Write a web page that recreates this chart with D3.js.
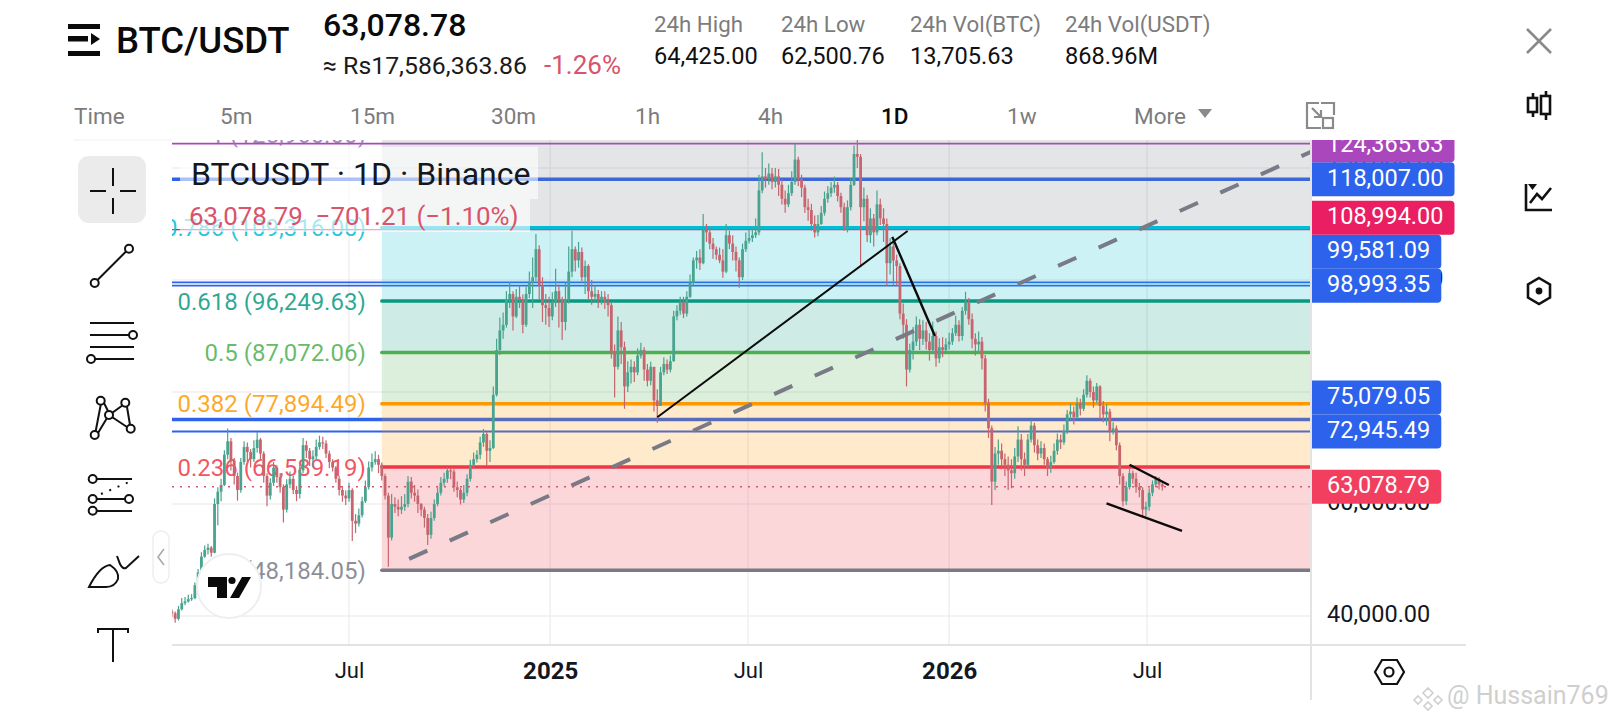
<!DOCTYPE html>
<html>
<head>
<meta charset="utf-8">
<script src="https://cdn.jsdelivr.net/npm/d3@7"></script>
<style>
html,body{margin:0;padding:0;background:#fff;overflow:hidden;}
svg{display:block;font-family:Roboto,sans-serif;}
</style>
</head>
<body>
<svg id="chart" width="1612" height="720"></svg>
<script>
// header + tabs
var statTitles = ["24h High", "24h Low", "24h Vol(BTC)", "24h Vol(USDT)"];
var statValues = ["64,425.00", "62,500.76", "13,705.63", "868.96M"];
var tabNames = ["Time", "5m", "15m", "30m", "1h", "4h", "1D", "1w", "More"];

// axis ticks
var timeTicks = ["2024-07-01", "2025-01-01", "2025-07-01", "2026-01-01", "2026-07-01"];
var timeTickLabels = ["Jul", "2025", "Jul", "2026", "Jul"];
var priceTicks = [40000, 60000, 80000, 100000, 120000];

// fib retracement
var fibRatios = ["0", "0.236", "0.382", "0.5", "0.618", "0.786", "1"];
var fibPrices = [48184.05, 66589.19, 77894.49, 87072.06, 96249.63, 109316.00, 125960.00];
var fibColors = ["#787b86", "#f23645", "#ff9800", "#4caf50", "#089981", "#00bcd4", "#9c6fb0"];
var fibStart = "2024-07-31";
var fibEnd = "2026-12-31";

// horizontal lines and their price tags
var levelPrices = [124365.63, 118007.00, 108994.00, 99581.09, 98993.35, 75079.05, 72945.49, 63078.79];
var levelColors = ["#ab47bc", "#2c62ec", "#e91e63", "#2c62ec", "#2c62ec", "#2c62ec", "#2c62ec", "#f23f5f"];
var levelWidths = [1.8, 3.5, 1.2, 1.8, 1.8, 3.5, 2, 0];

// hand drawn lines [date, price]
var trendA = [["2025-04-09", 75500], ["2025-11-24", 108750]];
var trendB = [["2025-11-10", 107700], ["2025-12-19", 90000]];
var channelTop = [["2026-06-15", 67000], ["2026-07-21", 63400]];
var channelBottom = [["2026-05-25", 60100], ["2026-08-02", 55200]];
var dashedTrend = [["2024-08-25", 50200], ["2026-11-28", 122900]];

// candles, one every 3 days from 2024-01-21, in thousand USDT
var candleStart = "2024-01-21";
var candleStepDays = 3;
var firstOpen = 40.8;
var closes = [
 40.5,39.5,41.2,42.3,42.6,43.0,43.2,45.5,47.8,50.6,
 51.8,52.2,51.3,60.0,62.2,63.4,68.8,71.2,67.8,65.0,
 62.5,67.5,70.2,69.3,68.0,70.0,71.5,69.0,65.0,61.5,
 63.8,66.5,64.8,63.0,59.0,63.5,64.5,62.5,61.8,66.0,
 70.5,69.5,68.0,68.5,70.2,71.0,70.8,69.0,67.5,66.5,
 64.5,62.5,61.5,61.0,62.5,57.0,56.5,58.0,60.5,63.0,
 66.5,67.5,68.0,67.0,65.0,61.5,54.0,60.0,59.5,59.0,
 59.5,60.0,64.0,62.0,61.5,60.0,59.0,57.5,54.5,57.5,
 60.0,62.0,63.8,64.5,66.0,65.8,63.0,62.5,60.8,62.0,
 64.5,67.0,68.0,68.8,71.0,72.5,69.5,70.0,79.5,87.5,
 91.0,92.0,96.5,97.5,93.5,97.0,96.5,92.0,97.5,99.5,
 100.5,105.5,99.0,95.5,95.0,93.5,96.0,98.0,96.5,92.5,
 96.5,101.5,105.5,103.5,105.0,100.5,102.5,98.0,97.0,97.5,
 96.5,97.0,96.0,95.5,87.0,84.5,91.0,88.0,81.0,83.5,
 84.5,83.5,86.5,87.5,84.0,82.0,84.5,78.5,77.5,83.5,
 85.0,84.0,85.5,93.5,94.5,96.0,94.0,97.0,99.5,103.5,
 104.0,103.0,109.0,108.5,106.5,105.5,104.5,103.5,101.5,108.0,
 106.5,105.0,103.5,100.5,105.5,107.0,107.5,108.0,108.5,116.0,
 118.5,118.0,119.0,117.5,118.5,117.0,114.5,113.5,115.5,117.5,
 121.5,118.0,116.5,113.0,112.5,110.0,108.5,110.0,112.0,114.5,
 115.5,116.5,117.0,115.0,113.0,109.5,113.0,117.0,122.5,122.0,
 113.0,114.5,108.0,111.0,108.5,113.5,111.0,110.0,103.0,106.0,
 103.5,102.5,94.0,92.0,84.0,87.5,89.0,92.0,89.5,91.0,
 89.0,87.5,90.0,86.0,88.0,87.5,88.5,89.0,90.5,92.0,
 90.0,94.5,96.0,93.0,89.5,88.5,89.0,86.0,78.0,73.5,
 64.0,69.0,69.5,68.0,67.0,66.0,65.5,68.5,71.5,68.0,
 67.0,71.5,74.0,70.5,69.0,70.0,68.0,66.5,67.5,69.5,
 71.5,71.0,73.0,76.0,76.5,75.5,78.0,77.0,79.5,82.0,
 80.0,78.5,81.0,77.5,76.0,76.5,73.0,73.5,70.5,65.0,
 60.5,63.0,65.5,64.5,63.0,62.5,59.0,59.5,62.0,63.5,
 64.5,63.5,63.1
];
var highs = [
 41.2,40.8,41.8,43.2,43.4,43.8,43.9,46.0,48.4,51.4,
 52.6,52.9,52.5,61.0,63.0,64.5,69.6,73.5,71.8,68.2,
 65.6,68.2,71.2,71.0,69.8,71.4,72.9,71.8,69.4,65.5,
 64.6,67.5,66.9,65.5,63.5,64.4,65.8,65.0,63.2,67.0,
 71.8,71.3,70.0,69.6,71.5,72.2,72.0,71.4,69.5,68.0,
 66.8,65.0,63.2,62.4,63.8,62.8,58.2,59.2,61.3,64.2,
 67.6,69.0,69.4,68.8,67.4,65.4,62.0,61.8,61.2,60.8,
 61.4,61.8,65.0,64.8,63.4,62.6,60.2,59.5,58.2,58.6,
 60.8,63.0,64.8,65.6,66.6,66.5,66.2,64.0,62.9,63.4,
 65.3,67.9,69.2,69.6,72.0,73.4,72.8,71.4,81.0,89.5,
 93.3,94.2,98.0,99.6,98.0,98.4,99.0,97.4,98.8,101.5,
 104.0,108.2,106.2,100.5,97.5,97.0,97.8,102.0,99.2,97.0,
 99.5,106.0,108.8,106.0,106.8,105.8,103.5,102.8,100.0,99.0,
 98.2,98.0,98.0,97.5,96.0,88.5,93.5,92.5,89.0,85.5,
 85.8,85.5,87.8,88.8,88.0,85.0,85.4,84.0,80.5,84.5,
 86.2,85.8,86.5,94.5,95.5,97.0,97.0,98.0,101.0,104.0,
 105.2,105.5,111.8,110.0,109.5,107.5,106.0,105.8,105.5,110.0,
 108.8,108.0,106.0,104.0,106.5,108.5,109.6,109.5,111.0,118.8,
 122.8,120.0,120.8,120.0,120.0,119.8,118.0,116.0,117.0,119.4,
 124.4,122.0,118.8,117.0,114.5,113.6,111.5,111.6,113.2,115.8,
 116.8,117.5,118.5,117.5,115.6,113.8,114.2,118.2,124.0,125.8,
 122.5,116.5,115.2,112.8,111.8,116.0,114.5,112.8,111.0,107.5,
 107.0,104.5,103.0,95.8,93.0,88.6,91.6,93.5,93.0,92.8,
 92.5,90.5,92.6,90.8,89.6,89.8,89.6,90.6,91.4,93.6,
 92.8,95.2,97.9,96.8,94.0,90.5,90.8,89.8,86.6,78.8,
 74.0,70.2,71.5,70.8,69.0,68.5,68.0,70.0,73.9,72.5,
 69.2,72.5,75.0,74.5,71.5,71.2,70.8,68.4,68.6,70.8,
 72.6,72.4,74.2,76.8,78.0,77.4,79.0,78.8,80.5,83.0,
 82.4,81.0,81.6,81.2,78.4,77.8,77.0,74.6,74.0,71.0,
 65.5,64.0,66.4,66.0,65.6,63.8,63.0,60.4,62.8,64.2,
 65.0,64.8,64.0
];
var lows = [
 39.8,38.8,39.2,41.0,41.9,42.4,42.7,43.0,45.2,47.6,
 50.4,51.0,50.6,51.2,56.2,60.5,63.2,68.0,66.0,63.5,
 60.6,62.0,67.0,67.6,66.5,67.5,69.2,68.0,63.8,59.6,
 60.8,63.2,63.8,62.0,56.7,58.5,62.8,61.8,60.5,61.0,
 65.5,68.2,66.8,66.6,68.0,69.7,69.8,68.2,66.4,65.8,
 63.8,61.5,60.4,59.8,60.4,53.4,54.8,56.0,57.6,60.2,
 62.6,65.8,67.0,65.5,64.2,60.8,48.8,53.5,58.4,57.8,
 58.2,58.8,59.4,61.0,60.4,58.4,57.8,55.8,52.7,53.8,
 57.0,59.6,61.5,63.2,63.8,64.4,62.2,61.2,59.9,60.2,
 61.4,64.0,66.4,67.4,68.0,70.2,66.8,67.5,69.8,79.2,
 86.6,89.5,91.5,95.0,91.0,93.2,95.0,90.5,91.6,96.8,
 95.0,99.8,96.5,92.5,92.0,91.6,92.8,95.2,91.5,89.3,
 91.0,95.8,100.5,101.5,102.2,99.8,97.5,96.5,95.6,96.0,
 95.0,95.6,94.8,93.5,86.0,79.0,84.0,85.0,77.0,80.0,
 81.5,81.8,83.0,86.0,82.0,81.0,81.2,76.5,74.5,77.5,
 83.0,83.2,83.5,85.4,92.8,93.8,93.2,93.5,96.8,99.0,
 102.0,101.8,102.8,106.8,105.5,103.8,103.6,103.0,100.4,101.2,
 105.5,103.5,101.5,98.6,100.0,105.0,106.5,106.8,107.5,108.0,
 115.5,116.5,117.0,116.2,116.5,115.0,113.5,112.0,113.0,115.0,
 117.0,116.8,114.8,112.0,110.6,108.8,107.6,107.8,109.8,111.5,
 113.8,114.8,115.6,114.0,112.0,108.8,108.5,112.4,116.8,120.0,
 102.3,110.5,106.8,106.6,106.0,108.0,109.8,106.8,99.0,101.0,
 99.2,99.0,93.0,89.5,81.0,83.5,85.8,88.2,87.5,88.4,
 87.6,85.6,86.8,84.5,85.2,86.2,86.8,87.6,88.4,90.0,
 89.0,89.2,93.8,92.0,87.8,86.5,87.2,84.0,76.5,71.8,
 59.8,62.5,67.0,66.2,65.0,62.5,62.8,64.5,67.5,66.0,
 65.0,66.6,71.0,69.2,67.8,68.2,67.0,65.0,65.6,67.2,
 68.8,69.8,70.6,72.5,75.0,74.2,75.2,75.8,76.6,79.0,
 79.0,77.2,78.0,75.2,74.6,74.0,71.2,72.4,69.6,63.5,
 59.6,59.8,62.6,63.6,62.0,61.2,57.6,57.8,58.8,61.4,
 63.0,62.6,62.4
];

var parseDate = d3.utcParse("%Y-%m-%d");
var svg = d3.select("#chart");

// pane box
var pane = {left: 172, right: 1311, top: 140, bottom: 645};
var priceLeft = 1312, priceText = 1327;

var xScale = d3.scaleUtc()
	.domain([parseDate("2024-07-01"), parseDate("2026-07-01")])
	.range([349, 1147]);
var yScale = d3.scaleLinear()
	.domain([40000, 60000])
	.range([616, 504]);

var defs = svg.append("defs");
defs.append("clipPath").attr("id", "paneClip").append("rect")
	.attr("x", pane.left).attr("y", pane.top)
	.attr("width", pane.right-pane.left).attr("height", pane.bottom-pane.top);
defs.append("clipPath").attr("id", "tagClip").append("rect")
	.attr("x", priceLeft).attr("y", pane.top)
	.attr("width", 200).attr("height", 500);

var plot = svg.append("g").attr("clip-path", "url(#paneClip)");

// grid
plot.selectAll("line.gridX").data(timeTicks).enter().append("line")
	.attr("x1", function(d){ return xScale(parseDate(d)); })
	.attr("x2", function(d){ return xScale(parseDate(d)); })
	.attr("y1", pane.top).attr("y2", pane.bottom)
	.attr("stroke", "#efeff1").attr("stroke-width", 1.5);
plot.selectAll("line.gridY").data(priceTicks).enter().append("line")
	.attr("x1", pane.left).attr("x2", pane.right)
	.attr("y1", function(d){ return yScale(d); })
	.attr("y2", function(d){ return yScale(d); })
	.attr("stroke", "#efeff1").attr("stroke-width", 1.5);

// horizontal lines
levelPrices.forEach(function(p, i){
	if(levelWidths[i] == 0) return;
	plot.append("line")
		.attr("x1", pane.left).attr("x2", pane.right)
		.attr("y1", yScale(p)).attr("y2", yScale(p))
		.attr("stroke", levelColors[i])
		.attr("stroke-width", levelWidths[i]);
});

// fib bands
var fibX0 = xScale(parseDate(fibStart));
var fibX1 = xScale(parseDate(fibEnd));
var bandColors = ["#f23645", "#ff9800", "#4caf50", "#089981", "#00bcd4", "#787b86"];
for(var i=0; i<fibPrices.length-1; i++){
	plot.append("rect")
		.attr("x", fibX0)
		.attr("width", fibX1-fibX0)
		.attr("y", yScale(fibPrices[i+1]))
		.attr("height", yScale(fibPrices[i])-yScale(fibPrices[i+1]))
		.attr("fill", bandColors[i])
		.attr("fill-opacity", 0.2);
}
// fib lines + labels
fibPrices.forEach(function(p, i){
	plot.append("line")
		.attr("x1", fibX0).attr("x2", fibX1)
		.attr("y1", yScale(p)).attr("y2", yScale(p))
		.attr("stroke", fibColors[i])
		.attr("stroke-width", 3.5)
		.attr("stroke-linecap", "round");
	plot.append("text")
		.text(fibRatios[i]+" ("+d3.format(",.2f")(p)+")")
		.attr("x", fibX0-16)
		.attr("y", yScale(p)+8.5)
		.attr("text-anchor", "end")
		.attr("fill", fibColors[i])
		.attr("fill-opacity", 0.85)
		.style("font-size", "24px");
});

// candles
var candles = closes.map(function(c, i){
	return {
		date: d3.utcDay.offset(parseDate(candleStart), i*candleStepDays),
		open: (i==0 ? firstOpen : closes[i-1])*1000,
		close: c*1000,
		high: highs[i]*1000,
		low: lows[i]*1000
	};
});
var upColor = "#4aa38e", downColor = "#c7656f";
var candleG = plot.append("g").selectAll("g").data(candles).enter().append("g");
candleG.append("line")
	.attr("x1", function(d){ return xScale(d.date); })
	.attr("x2", function(d){ return xScale(d.date); })
	.attr("y1", function(d){ return yScale(d.high); })
	.attr("y2", function(d){ return yScale(d.low); })
	.attr("stroke", function(d){ return d.close>=d.open ? upColor : downColor; })
	.attr("stroke-width", 1.2);
candleG.append("rect")
	.attr("x", function(d){ return xScale(d.date)-1.4; })
	.attr("width", 2.8)
	.attr("y", function(d){ return yScale(Math.max(d.open, d.close)); })
	.attr("height", function(d){ return Math.max(1, Math.abs(yScale(d.open)-yScale(d.close))); })
	.attr("fill", function(d){ return d.close>=d.open ? upColor : downColor; });

// drawings
var drawLine = d3.line()
	.x(function(d){ return xScale(parseDate(d[0])); })
	.y(function(d){ return yScale(d[1]); });
plot.append("path").attr("d", drawLine(dashedTrend))
	.attr("fill", "none").attr("stroke", "#787b86").attr("stroke-width", 4)
	.attr("stroke-dasharray", "20 24.5");
[trendA, trendB, channelTop, channelBottom].forEach(function(t, i){
	plot.append("path").attr("d", drawLine(t))
		.attr("fill", "none").attr("stroke", "#0c0c0c")
		.attr("stroke-width", i==0 ? 2 : 2.4);
});

// last price dotted line
plot.append("line")
	.attr("x1", pane.left).attr("x2", pane.right)
	.attr("y1", yScale(levelPrices[7])).attr("y2", yScale(levelPrices[7]))
	.attr("stroke", "#d9536b").attr("stroke-width", 1.6)
	.attr("stroke-dasharray", "2 6");

// legend
var legend = svg.append("g");
legend.append("rect").attr("x", 180).attr("y", 147).attr("width", 358).attr("height", 52)
	.attr("fill", "#fff").attr("fill-opacity", 0.6);
legend.append("rect").attr("x", 180).attr("y", 199).attr("width", 350).attr("height", 33)
	.attr("fill", "#fff").attr("fill-opacity", 0.6);
legend.append("text").text("BTCUSDT · 1D · Binance")
	.attr("x", 191).attr("y", 185).attr("fill", "#131722")
	.style("font-size", "32px");
legend.append("text").text("63,078.79  −701.21 (−1.10%)")
	.attr("x", 189).attr("y", 225).attr("fill", "#d9536b")
	.attr("xml:space", "preserve")
	.style("font-size", "25.9px");

// tradingview logo
var logo = svg.append("g");
logo.append("circle").attr("cx", 229).attr("cy", 586).attr("r", 32)
	.attr("fill", "#fff").attr("stroke", "#eeeeee").attr("stroke-width", 2);
logo.append("path").attr("d", "M208 577h19v21h-10v-11h-9z M242 577h9l-12 21h-9z").attr("fill", "#0a0a0a");
logo.append("circle").attr("cx", 232).attr("cy", 580.5).attr("r", 3.6).attr("fill", "#0a0a0a");

// price axis
var yAxis = d3.axisRight(yScale)
	.tickValues(priceTicks)
	.tickFormat(d3.format(",.2f"))
	.tickSize(0)
	.tickPadding(0);
var yAxisG = svg.append("g").attr("transform", "translate("+priceText+",0)").call(yAxis);
yAxisG.select(".domain").remove();
yAxisG.selectAll("text")
	.attr("fill", "#131722")
	.attr("dy", "0.22em")
	.style("font-family", "Roboto,sans-serif")
	.style("font-size", "23.5px");

// price tags, pushed up so that they do not overlap
var tagH = 34;
var tags = svg.append("g").attr("clip-path", "url(#tagClip)");
var prevY = null;
for(var i=levelPrices.length-1; i>=0; i--){
	var cy = yScale(levelPrices[i]);
	if(prevY !== null && cy > prevY-tagH-3) cy = prevY-tagH;
	prevY = cy;
	var tg = tags.append("g");
	var tagRect = tg.append("rect")
		.attr("x", priceLeft-8).attr("y", cy-tagH/2)
		.attr("height", tagH).attr("rx", 4)
		.attr("fill", levelColors[i]);
	var tagText = tg.append("text")
		.text(d3.format(",.2f")(levelPrices[i]))
		.attr("x", priceText).attr("y", cy+6.5)
		.attr("fill", "#fff")
		.style("font-size", "23.5px");
	tagRect.attr("width", tagText.node().getComputedTextLength()+priceText-priceLeft+19);
}

// time axis
var xAxis = d3.axisBottom(xScale)
	.tickValues(timeTicks.map(parseDate))
	.tickFormat(function(d, i){ return timeTickLabels[i]; })
	.tickSize(0)
	.tickPadding(17);
var xAxisG = svg.append("g").attr("transform", "translate(0,"+pane.bottom+")").call(xAxis);
xAxisG.select(".domain").remove();
xAxisG.selectAll("text")
	.attr("fill", "#131722")
	.style("font-family", "Roboto,sans-serif")
	.style("font-size", function(d, i){ return timeTickLabels[i]=="Jul" ? "22px" : "24px"; })
	.style("font-weight", function(d, i){ return timeTickLabels[i]=="Jul" ? 400 : 700; });

// pane borders
svg.append("line").attr("x1", pane.left).attr("x2", 1466)
	.attr("y1", pane.bottom).attr("y2", pane.bottom)
	.attr("stroke", "#e3e3e3").attr("stroke-width", 2);
svg.append("line").attr("x1", pane.right).attr("x2", pane.right)
	.attr("y1", pane.top).attr("y2", 700)
	.attr("stroke", "#e3e3e3").attr("stroke-width", 2);
svg.append("line").attr("x1", 74).attr("x2", 172)
	.attr("y1", 140).attr("y2", 140)
	.attr("stroke", "#f4f4f4").attr("stroke-width", 1.5);

// header
var head = svg.append("g");
head.append("path")
	.attr("d", "M68 24h32v5H68z M68 36h20v5.5H68z M91 33l9 6-9 6z M68 51h32v5H68z")
	.attr("fill", "#0a0a0a");
head.append("text").text("BTC/USDT").attr("x", 116).attr("y", 53)
	.attr("fill", "#0a0a0a").style("font-size", "36.5px").style("font-weight", 500);
head.append("text").text("63,078.78").attr("x", 323).attr("y", 36)
	.attr("fill", "#0a0a0a").style("font-size", "32px").style("font-weight", 500);
head.append("text").text("≈ Rs17,586,363.86").attr("x", 323).attr("y", 74)
	.attr("fill", "#1a1a1a").style("font-size", "24.8px");
head.append("text").text("-1.26%").attr("x", 544).attr("y", 74)
	.attr("fill", "#d9536b").style("font-size", "26px");

var statX = [654, 781, 910, 1065];
statTitles.forEach(function(t, i){
	head.append("text").text(t).attr("x", statX[i]).attr("y", 32)
		.attr("fill", "#7c7c7c").style("font-size", "22.300px");
	head.append("text").text(statValues[i]).attr("x", statX[i]).attr("y", 64)
		.attr("fill", "#111").style("font-size", "23.600px");
});

var tabX = [74, 220, 350, 491, 635, 758, 881, 1007, 1134];
tabNames.forEach(function(t, i){
	head.append("text").text(t).attr("x", tabX[i]).attr("y", 124)
		.attr("fill", t=="1D" ? "#0a0a0a" : "#7c7c7c")
		.style("font-size", "22.500px")
		.style("font-weight", t=="1D" ? 500 : 400);
});
head.append("path").attr("d", "M1198 109h14l-7 9z").attr("fill", "#8a8a8a");

// fullscreen icon
var fs = svg.append("g").attr("fill", "none").attr("stroke", "#8a8a8a").attr("stroke-width", 2.2);
fs.append("path").attr("d", "M1319 103h-12v25h14 M1321 103h13v12");
fs.append("rect").attr("x", 1323).attr("y", 118).attr("width", 10).attr("height", 10);
fs.append("path").attr("d", "M1312 108l9 9 M1321 110v7h-7");

// close
svg.append("path").attr("d", "M1527 29l24 24 M1551 29l-24 24")
	.attr("stroke", "#8a8a8a").attr("stroke-width", 2.6).attr("fill", "none");

// right tool icons
var rt = svg.append("g").attr("fill", "none").attr("stroke", "#111").attr("stroke-width", 2.6);
rt.append("path").attr("d", "M1533 93v5 M1533 112v5 M1546 91v5 M1546 114v6");
rt.append("rect").attr("x", 1528).attr("y", 98).attr("width", 9).attr("height", 14);
rt.append("rect").attr("x", 1541).attr("y", 96).attr("width", 9).attr("height", 18);
rt.append("path").attr("d", "M1526 184v26h26 M1530 203l7-9 5 5 9-11");
rt.append("path").attr("d", "M1539 278l11 6.500v13l-11 6.500l-11-6.500v-13z");
svg.append("path").attr("d", "M1528 184h9l-4.500 6z").attr("fill", "#111");
svg.append("circle").attr("cx", 1539).attr("cy", 291).attr("r", 3.4).attr("fill", "#111");

// settings hexagon
var hex = svg.append("g").attr("fill", "none").attr("stroke", "#111").attr("stroke-width", 2.2);
hex.append("path").attr("d", "M1375 672l7-12h15l7 12-7 12h-15z");
hex.append("circle").attr("cx", 1389).attr("cy", 672).attr("r", 4.5);

// left tools
var tools = svg.append("g").attr("fill", "none").attr("stroke", "#111").attr("stroke-width", 2);
svg.insert("rect", "g").attr("x", 78).attr("y", 156).attr("width", 68).attr("height", 67).attr("rx", 11).attr("fill", "#ebebeb");
tools.append("path").attr("d", "M90 191h16 M120 191h16 M113 168v18 M113 198v16");
tools.append("path").attr("d", "M97.500 280l29-29");
tools.selectAll("circle.t").data([[94.7,283],[129,248.7],[133,335],[91,359],[100.7,400.7],[125.3,402.7],[109,415],[130.7,428.7],[94.7,435],[92.7,479],[92.7,499],[129,499],[92.7,510.7]])
	.enter().append("circle")
	.attr("cx", function(d){ return d[0]; }).attr("cy", function(d){ return d[1]; })
	.attr("r", 4).attr("fill", "#fff");
tools.append("path").attr("d", "M90 323h44 M90 335h39 M90 347h44 M95 359h39");
tools.append("path").attr("d", "M100.700 405l-5 26 M98 433l9-15 M104 403l4 8 M112 413l11-8 M127 407l3 18 M112 417l15 10");
tools.append("path").attr("d", "M97 479h35 M97 499h28 M97 511h35");
tools.append("path").attr("d", "M101 494l27-11.500").attr("stroke-dasharray", "2 7");
tools.append("path").attr("d", "M89 587C95 575 102 566 110 565C116 569 119 574 118 579C116 584 112 587 106 587Z");
tools.append("path").attr("d", "M117 556l3 8c2 4 4 5 6 4l13-12");
tools.append("path").attr("d", "M98 633v-4h30v4 M113 629v33");

// collapse handle
svg.append("rect").attr("x", 153).attr("y", 531).attr("width", 16).attr("height", 52).attr("rx", 8)
	.attr("fill", "#fff").attr("stroke", "#eeeeee").attr("stroke-width", 1.5);
svg.append("path").attr("d", "M164 549l-6 8 6 8").attr("fill", "none").attr("stroke", "#aaa").attr("stroke-width", 1.6);

// watermark
var wm = svg.append("g").attr("fill", "none").attr("stroke", "#d0d0d0").attr("stroke-width", 1.6);
wm.append("path").attr("d", "M1428 688l5 5-5 5-5-5z M1418 696l4 4-4 4-4-4z M1438 696l4 4-4 4-4-4z M1428 702l4 4-4 4-4-4z");
svg.append("text").text("@ Hussain769").attr("x", 1447).attr("y", 704)
	.attr("fill", "#cfcfcf").style("font-size", "25px");
</script>
</body>
</html>
